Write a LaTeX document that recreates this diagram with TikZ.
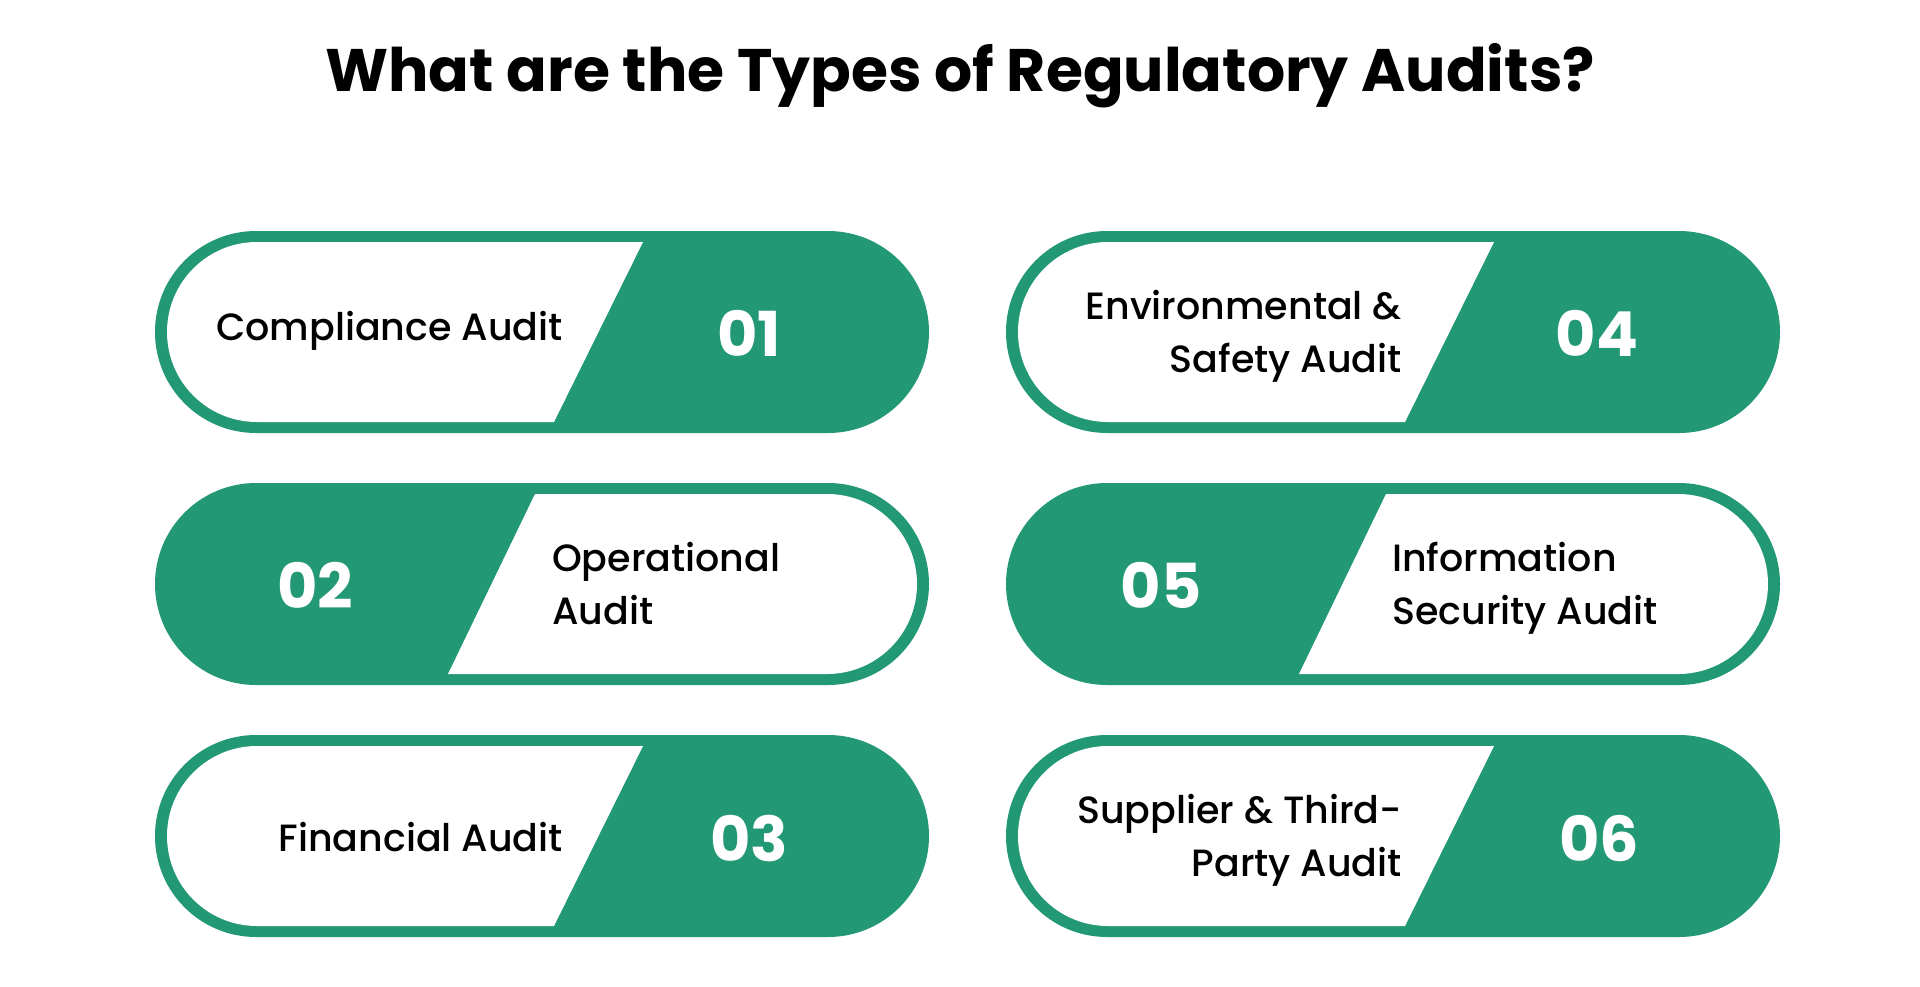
\documentclass[tikz,border=0pt]{standalone}
\usepackage{fontspec}
\setmainfont{Poppins}
\newfontfamily\pmed{Poppins Medium}
\definecolor{pgreen}{RGB}{34,152,116}
\tikzset{
  pill/.style={fill=pgreen},
  innerpart/.style={fill=white},
  lbl/.style={font=\pmed\fontsize{38}{53}\selectfont, text=black, inner sep=0pt},
  num/.style={font=\bfseries\fontsize{62}{62}\selectfont, text=white, inner sep=0pt, anchor=base},
  ttl/.style={font=\bfseries\fontsize{60}{66}\selectfont, text=black, inner sep=0pt, anchor=base},
}
% #1 left x, #2 centre y
\newcommand\pillouter[2]{%
  \fill[pill] ({#1+101},{#2-101}) -- ({#1+673},{#2-101}) arc[start angle=-90,end angle=90,radius=101]
    -- ({#1+101},{#2+101}) arc[start angle=90,end angle=270,radius=101] -- cycle;}
\newcommand\whiteleft[2]{%
  \fill[innerpart] ({#1+488},{#2-90}) -- ({#1+102},{#2-90}) arc[start angle=270,end angle=90,radius=90]
    -- ({#1+399},{#2+90}) -- cycle;}
\newcommand\whiteright[2]{%
  \fill[innerpart] ({#1+380},{#2-90}) -- ({#1+672},{#2-90}) arc[start angle=-90,end angle=90,radius=90]
    -- ({#1+293},{#2+90}) -- cycle;}
\begin{document}
\begin{tikzpicture}[x=1pt,y=-1pt]
\useasboundingbox (0,0) rectangle (1920,986);
\fill[white] (0,0) rectangle (1920,986);

\node[ttl] (title) at (960,91) {What are the Types of Regulatory Audits?};

% pills
\pillouter{155}{332}\whiteleft{155}{332}
\pillouter{155}{584}\whiteright{155}{584}
\pillouter{155}{836}\whiteleft{155}{836}
\pillouter{1006}{332}\whiteleft{1006}{332}
\pillouter{1006}{584}\whiteright{1006}{584}
\pillouter{1006}{836}\whiteleft{1006}{836}

% numbers
\node[num] (n1) at (749,356) {01};
\node[num] (n2) at (315,608) {02};
\node[num] (n3) at (749,861) {03};
\node[num] (n4) at (1597,356) {04};
\node[num] (n5) at (1161,608) {05};
\node[num] (n6) at (1599,861) {06};

% labels
\node[lbl, anchor=base east] (t1) at (563,340) {Compliance Audit};
\node[lbl, anchor=base west] (t2a) at (552,571) {Operational};
\node[lbl, anchor=base west] (t2b) at (552,624) {Audit};
\node[lbl, anchor=base east] (t3) at (563,851) {Financial Audit};
\node[lbl, anchor=base east] (t4a) at (1402,319) {Environmental \&};
\node[lbl, anchor=base east] (t4b) at (1402,372) {Safety Audit};
\node[lbl, anchor=base west] (t5a) at (1392,571) {Information};
\node[lbl, anchor=base west] (t5b) at (1392,624) {Security Audit};
\node[lbl, anchor=base east] (t6a) at (1402,823) {Supplier \& Third-};
\node[lbl, anchor=base east] (t6b) at (1402,876) {Party Audit};
\end{tikzpicture}
\end{document}
